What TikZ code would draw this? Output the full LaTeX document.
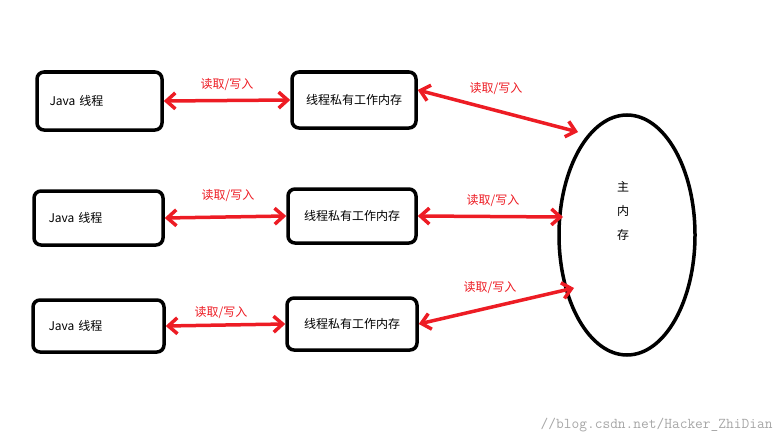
\documentclass[tikz,border=0pt]{standalone}
\usepackage{fontspec}
\setmainfont{Noto Sans CJK SC}
\usetikzlibrary{arrows.meta}
\definecolor{rd}{RGB}{237,28,36}
\begin{document}
\begin{tikzpicture}[x=1pt,y=-1pt,
  box/.style={draw,line width=3.5pt,rounded corners=7pt,inner sep=0pt,font=\fontsize{12}{14}\selectfont},
  jt/.style={box,text width=100pt,align=left},
  rw/.style={rd,line width=3.5pt,{Straight Barb[length=9pt,width=16pt]}-{Straight Barb[length=9pt,width=16pt]}},
  lab/.style={text=rd,font=\fontsize{12}{14}\selectfont}]
\useasboundingbox (0,0) rectangle (784,444);
\node[jt,minimum width=125pt,minimum height=58pt] (j1) at (99.5,101) {Java 线程};
\node[jt,minimum width=129pt,minimum height=54pt] (j2) at (98.5,218) {Java 线程};
\node[jt,minimum width=131pt,minimum height=52pt] (j3) at (98.5,326) {Java 线程};
\node[box,minimum width=124pt,minimum height=56pt] (m1) at (354,100) {线程私有工作内存};
\node[box,minimum width=128pt,minimum height=54pt] (m2) at (352,216) {线程私有工作内存};
\node[box,minimum width=130pt,minimum height=52pt] (m3) at (352,324) {线程私有工作内存};
\draw[line width=3.5pt] (627,235) ellipse (68 and 120);
\node[font=\fontsize{12}{14}\selectfont,align=center] (mm) at (623,211) {主\\[10pt]内\\[10pt]存};
\coordinate (e1) at (578,132);
\coordinate (e2) at (563,217);
\coordinate (e3) at (574,288);
\draw[rw] (j1.east) -- (m1.west);
\draw[rw] (j2.east) -- (m2.west);
\draw[rw] (j3.east) -- (m3.west);
\draw[rw] (m1.east)+(0,-10) coordinate (s1) (s1) -- (e1);
\draw[rw] (m2.east) -- (e2);
\draw[rw] (m3.east) -- (e3);
\node[lab] at (227,85) {读取/写入};
\node[lab] at (228,196) {读取/写入};
\node[lab] at (221,313) {读取/写入};
\node[lab] at (496,89) {读取/写入};
\node[lab] at (493,201) {读取/写入};
\node[lab] at (490,288) {读取/写入};
\node[text=black!35,font=\fontsize{15}{17}\selectfont\ttfamily,anchor=east] (wm) at (776,425) {//blog.csdn.net/Hacker\_ZhiDian};
\end{tikzpicture}
\end{document}
